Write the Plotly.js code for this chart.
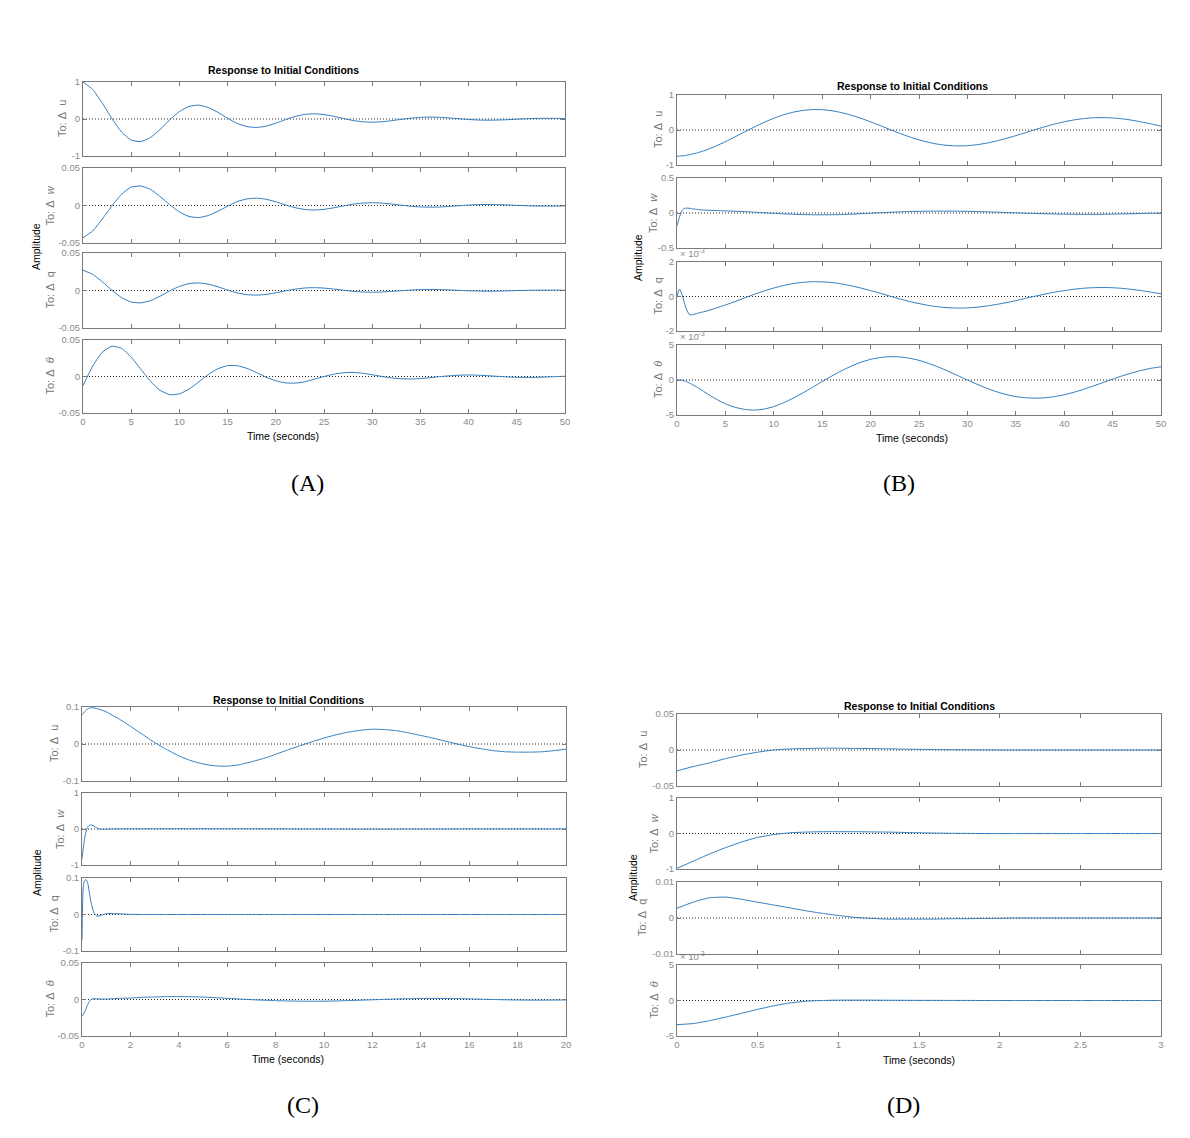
<!DOCTYPE html>
<html><head><meta charset="utf-8">
<script src="https://cdn.plot.ly/plotly-3.0.1.min.js"></script>
<style>html,body{margin:0;padding:0;background:#fff;}#chart{width:1190px;height:1138px;}</style>
</head><body><div id="chart"></div>
<script>
// ---------------- DATA ----------------
const seriesLabels = ['To: \u0394 u', 'To: \u0394 <i>w</i>', 'To: \u0394 q', 'To: \u0394 <i>\u03b8</i>'];
const panelLetters = ['(A)', '(B)', '(C)', '(D)'];
const chartTitle = 'Response to Initial Conditions';
const xLabel = 'Time (seconds)';
const yLabel = 'Amplitude';
const expLabel = '\u00d7 10<sup>-3</sup>';

// Panel A
const tA = [0,1,2,3,4,5,6,7,8,9,10,11,12,13,14,15,16,17,18,19,20,21,22,23,24,25,26,27,28,29,30,31,32,33,34,35,36,37,38,39,40,41,42,43,44,45,46,47,48,49,50];
const uA = [1,0.80,0.43,0.01,-0.35,-0.57,-0.61,-0.50,-0.28,-0.02,0.20,0.34,0.375,0.31,0.18,0.02,-0.12,-0.205,-0.229,-0.193,-0.114,-0.017,0.068,0.124,0.140,0.120,0.072,0.014,-0.039,-0.074,-0.085,-0.074,-0.046,-0.010,0.022,0.044,0.052,0.046,0.029,0.007,-0.013,-0.027,-0.032,-0.028,-0.019,-0.005,0.007,0.016,0.019,0.018,0.012];
const wA = [-0.043,-0.034,-0.018,-0.0004,0.015,0.0245,0.026,0.0215,0.012,0.001,-0.0086,-0.0146,-0.0161,-0.0133,-0.0077,-0.0009,0.0052,0.0088,0.0098,0.0083,0.0049,0.0007,-0.0029,-0.0053,-0.0060,-0.0052,-0.0031,-0.0006,0.0017,0.0032,0.0037,0.0032,0.0020,0.0004,-0.0009,-0.0019,-0.0022,-0.0020,-0.0012,-0.0003,0.0006,0.0012,0.0014,0.0012,0.0008,0.0002,-0.0003,-0.0007,-0.0008,-0.0008,-0.0005];
const qA = [0.027,0.0216,0.0116,0.0003,-0.0095,-0.0154,-0.0165,-0.0135,-0.0076,-0.0005,0.0054,0.0092,0.0101,0.0084,0.0049,0.0005,-0.0032,-0.0055,-0.0062,-0.0052,-0.0031,-0.0005,0.0018,0.0033,0.0038,0.0032,0.0019,0.0004,-0.0011,-0.0020,-0.0023,-0.0020,-0.0012,-0.0003,0.0006,0.0012,0.0014,0.0012,0.0008,0.0002,-0.0004,-0.0007,-0.0009,-0.0008,-0.0005,-0.0001,0.0002,0.0004,0.0005,0.0005,0.0003];
const thA = [-0.0125,0.0141,0.0333,0.0415,0.0385,0.0265,0.0100,-0.0066,-0.0190,-0.0249,-0.0239,-0.0173,-0.0075,0.0027,0.0107,0.0149,0.0148,0.0112,0.0054,-0.0009,-0.0058,-0.0087,-0.0091,-0.0073,-0.0037,0.0000,0.0031,0.0051,0.0056,0.0045,0.0024,0.0001,-0.0019,-0.0031,-0.0034,-0.0028,-0.0016,-0.0002,0.0010,0.0018,0.0021,0.0018,0.0011,0.0002,-0.0006,-0.0011,-0.0013,-0.0011,-0.0007,-0.0002,0.0003];

// Panel B (q and theta in units of 1e-3)
const tB = [0,0.25,0.5,0.75,1,1.25,1.5,1.75,2,2.5,3,4,5,6,7,8,9,10,11,12,13,14,15,16,17,18,19,20,21,22,23,24,25,26,27,28,29,30,31,32,33,34,35,36,37,38,39,40,41,42,43,44,45,46,47,48,49,50];
const uB = [-0.750,-0.746,-0.739,-0.731,-0.721,-0.708,-0.694,-0.678,-0.660,-0.619,-0.572,-0.461,-0.334,-0.195,-0.053,0.087,0.218,0.336,0.434,0.509,0.559,0.584,0.580,0.550,0.497,0.424,0.335,0.234,0.126,0.014,-0.094,-0.195,-0.282,-0.354,-0.408,-0.442,-0.456,-0.448,-0.420,-0.375,-0.314,-0.242,-0.161,-0.075,0.011,0.094,0.169,0.234,0.288,0.326,0.348,0.354,0.344,0.319,0.280,0.229,0.173,0.108];
const wB = [-0.18,-0.06,0.03,0.065,0.07,0.068,0.062,0.057,0.052,0.045,0.04,0.035,0.03,0.025,0.02,0.012,0.004,-0.004,-0.012,-0.018,-0.022,-0.025,-0.026,-0.025,-0.022,-0.017,-0.010,-0.003,0.004,0.010,0.016,0.021,0.024,0.026,0.027,0.027,0.026,0.024,0.020,0.016,0.012,0.007,0.002,-0.003,-0.007,-0.011,-0.014,-0.016,-0.018,-0.019,-0.019,-0.018,-0.016,-0.013,-0.010,-0.007,-0.004,-0.001];
const qB = [0,0.43,0.15,-0.35,-0.78,-1.02,-1.07,-1.03,-0.99,-0.92,-0.85,-0.68,-0.49,-0.29,-0.08,0.13,0.32,0.49,0.64,0.75,0.82,0.86,0.85,0.81,0.73,0.62,0.49,0.34,0.19,0.02,-0.14,-0.29,-0.41,-0.52,-0.60,-0.65,-0.67,-0.66,-0.62,-0.55,-0.46,-0.36,-0.24,-0.11,0.02,0.14,0.25,0.34,0.42,0.48,0.51,0.52,0.51,0.47,0.41,0.34,0.25,0.16];
const thB = [0,0.0,-0.03,-0.12,-0.25,-0.42,-0.6,-0.78,-0.97,-1.4,-1.85,-2.7,-3.4,-3.9,-4.2,-4.3,-4.15,-3.8,-3.25,-2.6,-1.85,-1.05,-0.22,0.57,1.32,1.98,2.54,2.95,3.21,3.33,3.30,3.12,2.81,2.37,1.85,1.26,0.63,0.0,-0.61,-1.18,-1.68,-2.07,-2.37,-2.54,-2.60,-2.54,-2.37,-2.11,-1.76,-1.33,-0.86,-0.37,0.12,0.59,1.01,1.38,1.68,1.88];

// Panel C
const tC = [0,0.05,0.1,0.15,0.2,0.25,0.3,0.35,0.4,0.5,0.6,0.7,0.8,1,1.25,1.5,2,2.5,3,3.5,4,4.5,5,5.5,6,6.5,7,7.5,8,8.5,9,9.5,10,10.5,11,11.5,12,12.5,13,13.5,14,14.5,15,15.5,16,16.5,17,17.5,18,18.5,19,19.5,20];
const uC = [0.079,0.083,0.087,0.090,0.093,0.095,0.097,0.0975,0.098,0.0975,0.096,0.094,0.092,0.087,0.078,0.069,0.048,0.026,0.004,-0.015,-0.032,-0.045,-0.054,-0.059,-0.060,-0.056,-0.048,-0.039,-0.028,-0.016,-0.005,0.006,0.016,0.025,0.032,0.037,0.040,0.039,0.036,0.030,0.023,0.016,0.008,0.000,-0.007,-0.013,-0.018,-0.021,-0.022,-0.022,-0.021,-0.018,-0.014];
const wC = [-0.82,-0.55,-0.30,-0.12,0.0,0.07,0.10,0.11,0.11,0.08,0.035,0.005,-0.005,-0.005,0.0,0.002,0.003,0.004,0.005,0.005,0.006,0.006,0.006,0.006,0.005,0.005,0.004,0.004,0.003,0.002,0.001,0.0,-0.001,-0.001,-0.002,-0.002,-0.002,-0.002,-0.002,-0.001,-0.001,0.0,0.0,0.001,0.002,0.002,0.002,0.002,0.002,0.002,0.001,0.001,0.001];
const qC = [-0.07,0.075,0.092,0.095,0.093,0.082,0.062,0.042,0.025,0.004,-0.004,-0.004,-0.002,0.002,0.003,0.002,0.0005,0,0,0,0,0,0,0,0,0,0,0,0,0,0,0,0,0,0,0,0,0,0,0,0,0,0,0,0,0,0,0,0,0,0,0,0];
const thC = [-0.022,-0.021,-0.018,-0.014,-0.010,-0.006,-0.003,-0.001,0.0005,0.001,0.001,0.0008,0.0006,0.0006,0.001,0.0015,0.002,0.003,0.0035,0.004,0.004,0.0038,0.0033,0.0025,0.0016,0.0007,-0.0002,-0.001,-0.0016,-0.002,-0.0023,-0.0024,-0.0023,-0.002,-0.0015,-0.001,-0.0004,0.0002,0.0007,0.0011,0.0014,0.0015,0.0014,0.0012,0.0008,0.0004,0.0,-0.0004,-0.0007,-0.0009,-0.0009,-0.0008,-0.0006];

// Panel D (theta in units of 1e-3)
const tD = [0,0.1,0.2,0.3,0.4,0.5,0.6,0.7,0.8,0.9,1,1.1,1.2,1.3,1.4,1.5,1.6,1.7,1.8,1.9,2,2.1,2.2,2.3,2.4,2.5,2.6,2.7,2.8,2.9,3];
const uD = [-0.029,-0.023,-0.018,-0.012,-0.007,-0.003,0.0,0.0015,0.002,0.0025,0.0025,0.0022,0.002,0.0016,0.0012,0.0009,0.0006,0.0004,0.0002,0.0001,0,0,0,0,0,0,0,0,0,0,0];
const wD = [-0.98,-0.78,-0.58,-0.40,-0.24,-0.11,-0.03,0.02,0.04,0.05,0.05,0.05,0.045,0.04,0.03,0.02,0.012,0.006,0.002,0.0,-0.001,-0.001,-0.001,-0.001,-0.001,0,0,0,0,0,0];
const qD = [0.0027,0.0044,0.0056,0.0058,0.0052,0.0044,0.0036,0.0028,0.0020,0.0013,0.0007,0.0002,-0.0001,-0.0003,-0.0003,-0.0003,-0.0003,-0.0002,-0.0002,-0.0001,-0.0001,0,0,0,0,0,0,0,0,0,0];
const thD = [-3.4,-3.25,-2.85,-2.35,-1.8,-1.25,-0.75,-0.35,-0.1,0.0,0.05,0.05,0.05,0.04,0.03,0.02,0.02,0.01,0.01,0,0,0,0,0,0,0,0,0,0,0,0];

// Tick labels
const xTicksA = [0,5,10,15,20,25,30,35,40,45,50];
const xTicksB = [0,5,10,15,20,25,30,35,40,45,50];
const xTicksC = [0,2,4,6,8,10,12,14,16,18,20];
const xTicksD = [0,0.5,1,1.5,2,2.5,3];
const yLimitsA = [1,0.05,0.05,0.05];
const yLimitsB = [1,0.5,2,5];
const yLimitsC = [0.1,1,0.1,0.05];
const yLimitsD = [0.05,1,0.01,5];
const expRowsB = [false,false,true,true];
const expRowsD = [false,false,false,true];
const expRowsNone = [false,false,false,false];

// ---------------- LAYOUT (pixel geometry) ----------------
const W = 1190, H = 1138;
const panels = [
  {t:tA, s:[uA,wA,qA,thA], xt:xTicksA, lim:yLimitsA, ex:expRowsNone, xpx:[83,565],
   rows:[[82,156],[168,243],[253,328],[340,413]], labX:[62,49,49,49], ampX:36, ampY:247,
   titleX:283, titleY:70, timeY:436, letter:[307,483]},
  {t:tB, s:[uB,wB,qB,thB], xt:xTicksB, lim:yLimitsB, ex:expRowsB, xpx:[677,1161],
   rows:[[95,165],[178,248],[262,331],[345,415]], labX:[658,653,658,658], ampX:638, ampY:258,
   titleX:912, titleY:86, timeY:438, letter:[899,483]},
  {t:tC, s:[uC,wC,qC,thC], xt:xTicksC, lim:yLimitsC, ex:expRowsNone, xpx:[82,566],
   rows:[[707,781],[793,865],[878,951],[963,1036]], labX:[54,60,53,49], ampX:37, ampY:873,
   titleX:288, titleY:700, timeY:1059, letter:[303,1105]},
  {t:tD, s:[uD,wD,qD,thD], xt:xTicksD, lim:yLimitsD, ex:expRowsD, xpx:[677,1161],
   rows:[[714,786],[798,869],[882,954],[965,1036]], labX:[643,653,642,653], ampX:633, ampY:878,
   titleX:919, titleY:706, timeY:1060, letter:[903,1105]}
];

const GRAY = '#7a7a7a', TICKC = '#8a8a8a', LINEC = '#2f7dc0';
const FONT = 'Liberation Sans, Arial, sans-serif';
const TICKSIZE = 9.5;
const px = v => v / W, py = v => 1 - v / H;
const fmt = v => String(v);

const traces = [], layout = {
  width: W, height: H, margin: {l:0, r:0, t:0, b:0}, paper_bgcolor:'#fff', plot_bgcolor:'#fff',
  showlegend:false, shapes:[], annotations:[], font:{family:FONT}
};

let k = 0;
panels.forEach((p) => {
  const xmax = p.xt[p.xt.length-1];
  p.rows.forEach((r, ri) => {
    k++;
    const xs = k === 1 ? '' : String(k);
    const L = p.lim[ri];
    layout['xaxis'+xs] = {
      domain:[px(p.xpx[0]), px(p.xpx[1])], anchor:'y'+xs, range:[0, xmax],
      tickvals:p.xt, ticktext:p.xt.map(fmt), showticklabels: ri === 3,
      ticks:'inside', ticklen:4, tickwidth:1, tickcolor:GRAY, mirror:'ticks',
      showline:true, linecolor:GRAY, linewidth:1, showgrid:false, zeroline:false,
      tickfont:{family:FONT, size:TICKSIZE, color:TICKC}, fixedrange:true
    };
    layout['yaxis'+xs] = {
      domain:[py(r[1]), py(r[0])], anchor:'x'+xs, range:[-L, L],
      tickvals:[-L,0,L], ticktext:['-'+fmt(L),'0',fmt(L)],
      ticks:'inside', ticklen:4, tickwidth:1, tickcolor:GRAY, mirror:'ticks',
      showline:true, linecolor:GRAY, linewidth:1, showgrid:false, zeroline:false,
      tickfont:{family:FONT, size:TICKSIZE, color:TICKC}, fixedrange:true
    };
    layout.shapes.push({type:'line', xref:'x'+xs+' domain', yref:'y'+xs, x0:0, x1:1, y0:0, y1:0,
      line:{color:'#222', width:1, dash:'1px,2px'}, layer:'below'});
    traces.push({x:p.t, y:p.s[ri], xaxis:'x'+xs, yaxis:'y'+xs, type:'scatter', mode:'lines',
      line:{color:LINEC, width:1, shape:'spline', smoothing:0.5}, hoverinfo:'skip'});
    layout.annotations.push({xref:'paper', yref:'paper', x:px(p.labX[ri]), y:py((r[0]+r[1])/2),
      text: seriesLabels[ri].replace(/ /g,'\u00a0\u00a0').replace('To:\u00a0\u00a0','To:\u00a0'),
      textangle:-90, showarrow:false, xanchor:'center', yanchor:'middle',
      font:{family:FONT, size:11, color:'#777'}});
    if (p.ex[ri]) {
      layout.annotations.push({xref:'paper', yref:'paper', x:px(p.xpx[0]+1), y:py(r[0]-1),
        text:expLabel, showarrow:false, xanchor:'left', yanchor:'bottom',
        font:{family:FONT, size:TICKSIZE, color:TICKC}});
    }
  });
  layout.annotations.push({xref:'paper', yref:'paper', x:px(p.titleX), y:py(p.titleY), text:'<b>'+chartTitle+'</b>',
    showarrow:false, xanchor:'center', yanchor:'middle', font:{family:FONT, size:10.5, color:'#000'}});
  layout.annotations.push({xref:'paper', yref:'paper', x:px(p.titleX), y:py(p.timeY), text:xLabel,
    showarrow:false, xanchor:'center', yanchor:'middle', font:{family:FONT, size:10.5, color:'#000'}});
  layout.annotations.push({xref:'paper', yref:'paper', x:px(p.ampX), y:py(p.ampY), text:yLabel, textangle:-90,
    showarrow:false, xanchor:'center', yanchor:'middle', font:{family:FONT, size:10.5, color:'#000'}});
});
panels.forEach((p, i) => {
  layout.annotations.push({xref:'paper', yref:'paper', x:px(p.letter[0]), y:py(p.letter[1]), text:panelLetters[i],
    showarrow:false, xanchor:'center', yanchor:'middle', font:{family:'Liberation Serif, DejaVu Serif, serif', size:24, color:'#000'}});
});

Plotly.newPlot('chart', traces, layout, {staticPlot:true, displayModeBar:false});
</script></body></html>
